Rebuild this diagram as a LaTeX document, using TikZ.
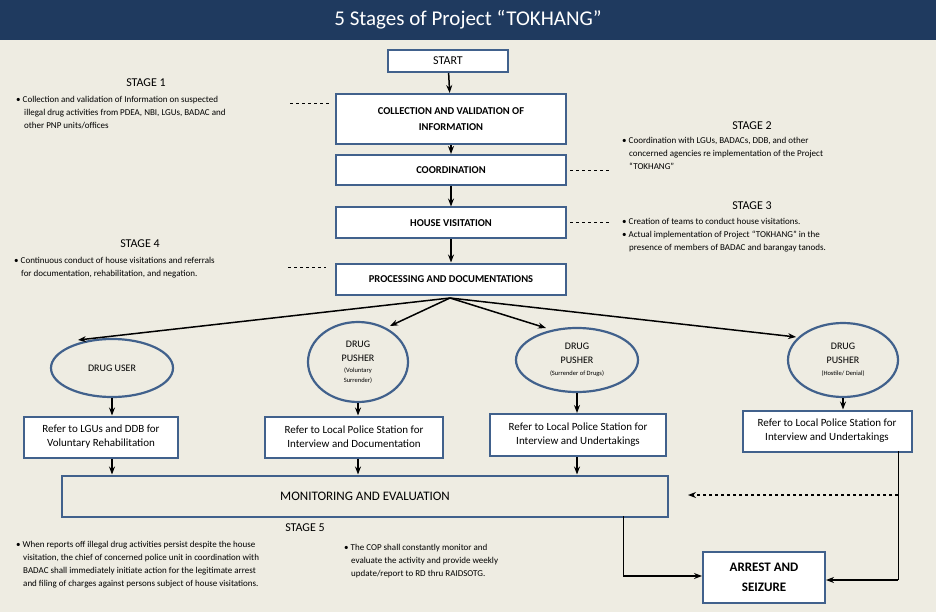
\documentclass[tikz,border=0pt]{standalone}
\usepackage{fontspec}
\setmainfont{Carlito}
\usetikzlibrary{arrows.meta,shapes.geometric}
\definecolor{bg}{HTML}{EEECE2}
\definecolor{navy}{HTML}{1F3A5F}
\definecolor{bord}{HTML}{41618C}
\begin{document}
\begin{tikzpicture}[x=1pt,y=-1pt,
 box/.style={draw=bord,line width=2pt,fill=white,align=center,font=\fontsize{11}{14}\selectfont,inner sep=2pt},
 ell/.style={draw=bord,line width=2.2pt,fill=bg,ellipse,align=center,font=\fontsize{10}{12}\selectfont,inner sep=0pt},
 txt/.style={align=justify,font=\fontsize{9}{13}\selectfont,anchor=north west,inner sep=0pt},
 stg/.style={font=\fontsize{12}{14}\selectfont},
 arr/.style={-{Stealth[length=8pt,width=6pt]},line width=1.5pt},
 dsh/.style={dashed,line width=0.7pt}]
\fill[bg] (0,0) rectangle (936,612);
\fill[navy] (0,0) rectangle (936,40);
\node[text=white,font=\fontsize{21}{24}\selectfont] (title) at (468,20) {5 Stages of Project “TOKHANG”};
\node[box,minimum width=120,minimum height=22,font=\fontsize{12}{14}\selectfont] (start) at (448,61) {START};
\node[box,minimum width=230,minimum height=50,font=\fontsize{10.5}{16}\selectfont\bfseries] (coll) at (451,119) {COLLECTION AND VALIDATION OF\\INFORMATION};
\node[box,minimum width=230,minimum height=30,font=\fontsize{10.5}{12}\selectfont\bfseries] (coord) at (451,170) {COORDINATION};
\node[box,minimum width=230,minimum height=31,font=\fontsize{10.5}{12}\selectfont\bfseries] (house) at (451,223) {HOUSE VISITATION};
\node[box,minimum width=230,minimum height=31,font=\fontsize{10.5}{12}\selectfont\bfseries] (proc) at (451,279) {PROCESSING AND DOCUMENTATIONS};
\draw[arr] (start) -- (coll);
\draw[arr] (coll) -- (coord);
\draw[arr] (coord) -- (house);
\draw[arr] (house) -- (proc);
\coordinate (d1a) at (290,103); \coordinate (d1b) at (330,103);
\coordinate (d2a) at (570,170); \coordinate (d2b) at (610,170);
\coordinate (d3a) at (570,222); \coordinate (d3b) at (610,222);
\coordinate (d4a) at (288,267); \coordinate (d4b) at (326,267);
\draw[dsh] (d1a)--(d1b); \draw[dsh] (d2a)--(d2b); \draw[dsh] (d3a)--(d3b); \draw[dsh] (d4a)--(d4b);
\node[stg] (s1) at (146,83) {STAGE 1};
\node[txt,text width=262] (t1) at (16,96) {\textbullet\ Collection and validation of Information on suspected\\\hspace*{8pt}illegal drug activities from PDEA, NBI, LGUs, BADAC and\\\hspace*{8pt}other PNP units/offices};
\node[stg] (s2) at (752,126) {STAGE 2};
\node[txt,text width=258] (t2) at (622,137) {\textbullet\ Coordination with LGUs, BADACs, DDB, and other\\\hspace*{7pt}concerned agencies re implementation of the Project\\\hspace*{7pt}“TOKHANG”};
\node[stg] (s3) at (752,206) {STAGE 3};
\node[txt,text width=262] (t3) at (622,218) {\textbullet\ Creation of teams to conduct house visitations.\\\textbullet\ Actual implementation of Project “TOKHANG” in the\\\hspace*{7pt}presence of members of BADAC and barangay tanods.};
\node[stg] (s4) at (140,244) {STAGE 4};
\node[txt,text width=262] (t4) at (14,257) {\textbullet\ Continuous conduct of house visitations and referrals\\\hspace*{7pt}for documentation, rehabilitation, and negation.};
\coordinate (br) at (450,298);
\node[ell,minimum width=122,minimum height=58] (e1) at (112,368) {DRUG USER};
\node[ell,minimum width=100,minimum height=80] (e2) at (358,362) {DRUG\\[2pt]PUSHER\\[-1pt]{\fontsize{6.5}{8}\selectfont(Voluntary}\\[-2pt]{\fontsize{6.5}{8}\selectfont Surrender)}};
\node[ell,minimum width=122,minimum height=64] (e3) at (577,360) {DRUG\\[2pt]PUSHER\\{\fontsize{6.5}{8}\selectfont(Surrender of Drugs)}};
\node[ell,minimum width=110,minimum height=74] (e4) at (843,360) {DRUG\\[2pt]PUSHER\\{\fontsize{6.5}{8}\selectfont(Hostile/ Denial)}};
\coordinate (a1) at (78,340); \coordinate (a2) at (390,326); \coordinate (a3) at (546,328); \coordinate (a4) at (796,337);
\draw[arr] (br)--(a1); \draw[arr] (br)--(a2); \draw[arr] (br)--(a3); \draw[arr] (br)--(a4);
\node[box,minimum width=154,minimum height=41] (r1) at (101,437) {Refer to LGUs and DDB for\\Voluntary Rehabilitation};
\node[box,minimum width=178,minimum height=41] (r2) at (354,437) {Refer to Local Police Station for\\Interview and Documentation};
\node[box,minimum width=176,minimum height=42] (r3) at (578,435) {Refer to Local Police Station for\\Interview and Undertakings};
\node[box,minimum width=169,minimum height=41] (r4) at (827,431) {Refer to Local Police Station for\\Interview and Undertakings};
\draw[arr] (e1.south) -- (e1.south |- r1.north);
\draw[arr] (e2.south) -- (e2.south |- r2.north);
\draw[arr] (e3.south) -- (e3.south |- r3.north);
\draw[arr] (e4.south) -- (e4.south |- r4.north);
\node[box,fill=bg,minimum width=606,minimum height=41,font=\fontsize{13}{15}\selectfont] (mon) at (365,496) {MONITORING AND EVALUATION};
\draw[arr] (r1.south -| e1.south) -- (e1.south |- mon.north);
\draw[arr] (r2.south -| e2.south) -- (e2.south |- mon.north);
\draw[arr] (r3.south -| e3.south) -- (e3.south |- mon.north);
\node[box,minimum width=122,minimum height=51,font=\fontsize{13}{20}\selectfont\bfseries] (arrest) at (764,577) {ARREST AND\\SEIZURE};
\coordinate (rt) at (898,451); \coordinate (rc) at (898,580); \coordinate (rd) at (898,495);
\draw[line width=0.7pt] (rt) -- (rc);
\draw[arr] (rc) -- (arrest.east |- rc);
\draw[arr,dashed] (rd) -- (688,495);
\coordinate (ma) at (623,516); \coordinate (mb) at (623,576);
\draw[line width=0.7pt] (ma) -- (mb);
\draw[arr] (mb) -- (arrest.west |- mb);
\node[stg] (s5) at (305,528) {STAGE 5};
\node[txt,text width=312] (t5) at (16,541) {\textbullet\ When reports off illegal drug activities persist despite the house\\\hspace*{7pt}visitation, the chief of concerned police unit in coordination with\\\hspace*{7pt}BADAC shall immediately initiate action for the legitimate arrest\\\hspace*{7pt}and filing of charges against persons subject of house visitations.};
\node[txt,text width=196] (t6) at (344,544) {\textbullet\ The COP shall constantly monitor and\\\hspace*{7pt}evaluate the activity and provide weekly\\\hspace*{7pt}update/report to RD thru RAIDSOTG.};
\end{tikzpicture}
\end{document}
